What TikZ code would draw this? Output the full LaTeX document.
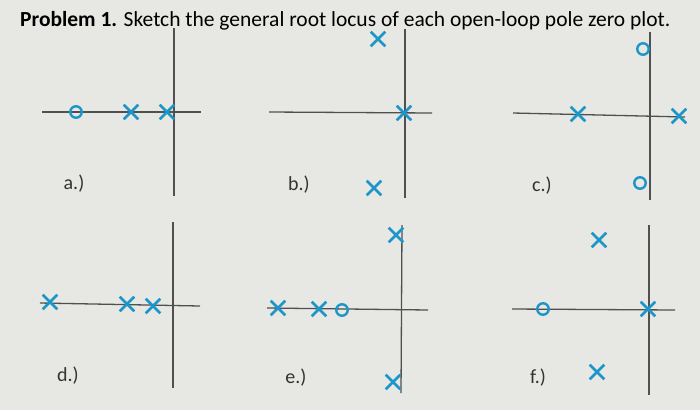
\documentclass[tikz,border=0pt]{standalone}
\usepackage{fontspec}
\setmainfont{Carlito}
\usetikzlibrary{shapes.misc}
\definecolor{paper}{RGB}{231,231,228}
\definecolor{mark}{RGB}{28,150,200}
\definecolor{axisgray}{RGB}{80,80,80}
\tikzset{
  pole/.style={cross out, draw=mark, line width=2.6pt, minimum size=12pt, inner sep=0pt},
  zero/.style={circle, draw=mark, line width=2.4pt, minimum size=11.5pt, inner sep=0pt},
  ax/.style={draw=axisgray, line width=1.3pt},
  lbl/.style={font=\fontsize{20}{24}\selectfont, text=black!80}
}
\begin{document}
\begin{tikzpicture}[x=1pt,y=-1pt]
\fill[paper] (0,0) rectangle (700,410);
\node[anchor=base west, inner sep=0pt, font=\fontsize{21.5}{25}\selectfont] (title) at (20,26)
  {\textbf{Problem 1.} Sketch the general root locus of each open-loop pole zero plot.};
% a.)
\draw[ax] (42,112) -- (201,112);
\draw[ax] (174,28) -- (174,196);
\node[zero] (za1) at (76,112) {};
\node[pole] (pa1) at (131,112) {};
\node[pole] (pa2) at (167,112) {};
\node[lbl] (la) at (74,184) {a.)};
% b.)
\draw[ax] (269,112) -- (432,113);
\draw[ax] (405,29) -- (405,198);
\node[pole] (pb1) at (378,39) {};
\node[pole] (pb2) at (404,113) {};
\node[pole] (pb3) at (374,188) {};
\node[lbl] (lb) at (299,185) {b.)};
% c.)
\draw[ax] (513,113) -- (685,117);
\draw[ax] (650,32) -- (650,200);
\node[zero] (zc1) at (643,49) {};
\node[zero] (zc2) at (640,183) {};
\node[pole] (pc1) at (578,114) {};
\node[pole] (pc2) at (679,116) {};
\node[lbl] (lc) at (542,186) {c.)};
% d.)
\draw[ax] (40,303) -- (200,306);
\draw[ax] (173,222) -- (173,388);
\node[pole] (pd1) at (50,302) {};
\node[pole] (pd2) at (127,304) {};
\node[pole] (pd3) at (153,306) {};
\node[lbl] (ld) at (68,376) {d.)};
% e.)
\draw[ax] (267,308) -- (428,310);
\draw[ax] (402,225) -- (401,393);
\node[pole] (pe1) at (278,308) {};
\node[pole] (pe2) at (319,309) {};
\node[zero] (ze1) at (342,310) {};
\node[pole] (pe3) at (396,235) {};
\node[pole] (pe4) at (393,382) {};
\node[lbl] (le) at (296,378) {e.)};
% f.)
\draw[ax] (512,309) -- (675,310);
\draw[ax] (649,225) -- (649,395);
\node[zero] (zf1) at (543,309) {};
\node[pole] (pf1) at (599,240) {};
\node[pole] (pf2) at (648,309) {};
\node[pole] (pf3) at (597,372) {};
\node[lbl] (lf) at (538,378) {f.)};
\end{tikzpicture}
\end{document}
